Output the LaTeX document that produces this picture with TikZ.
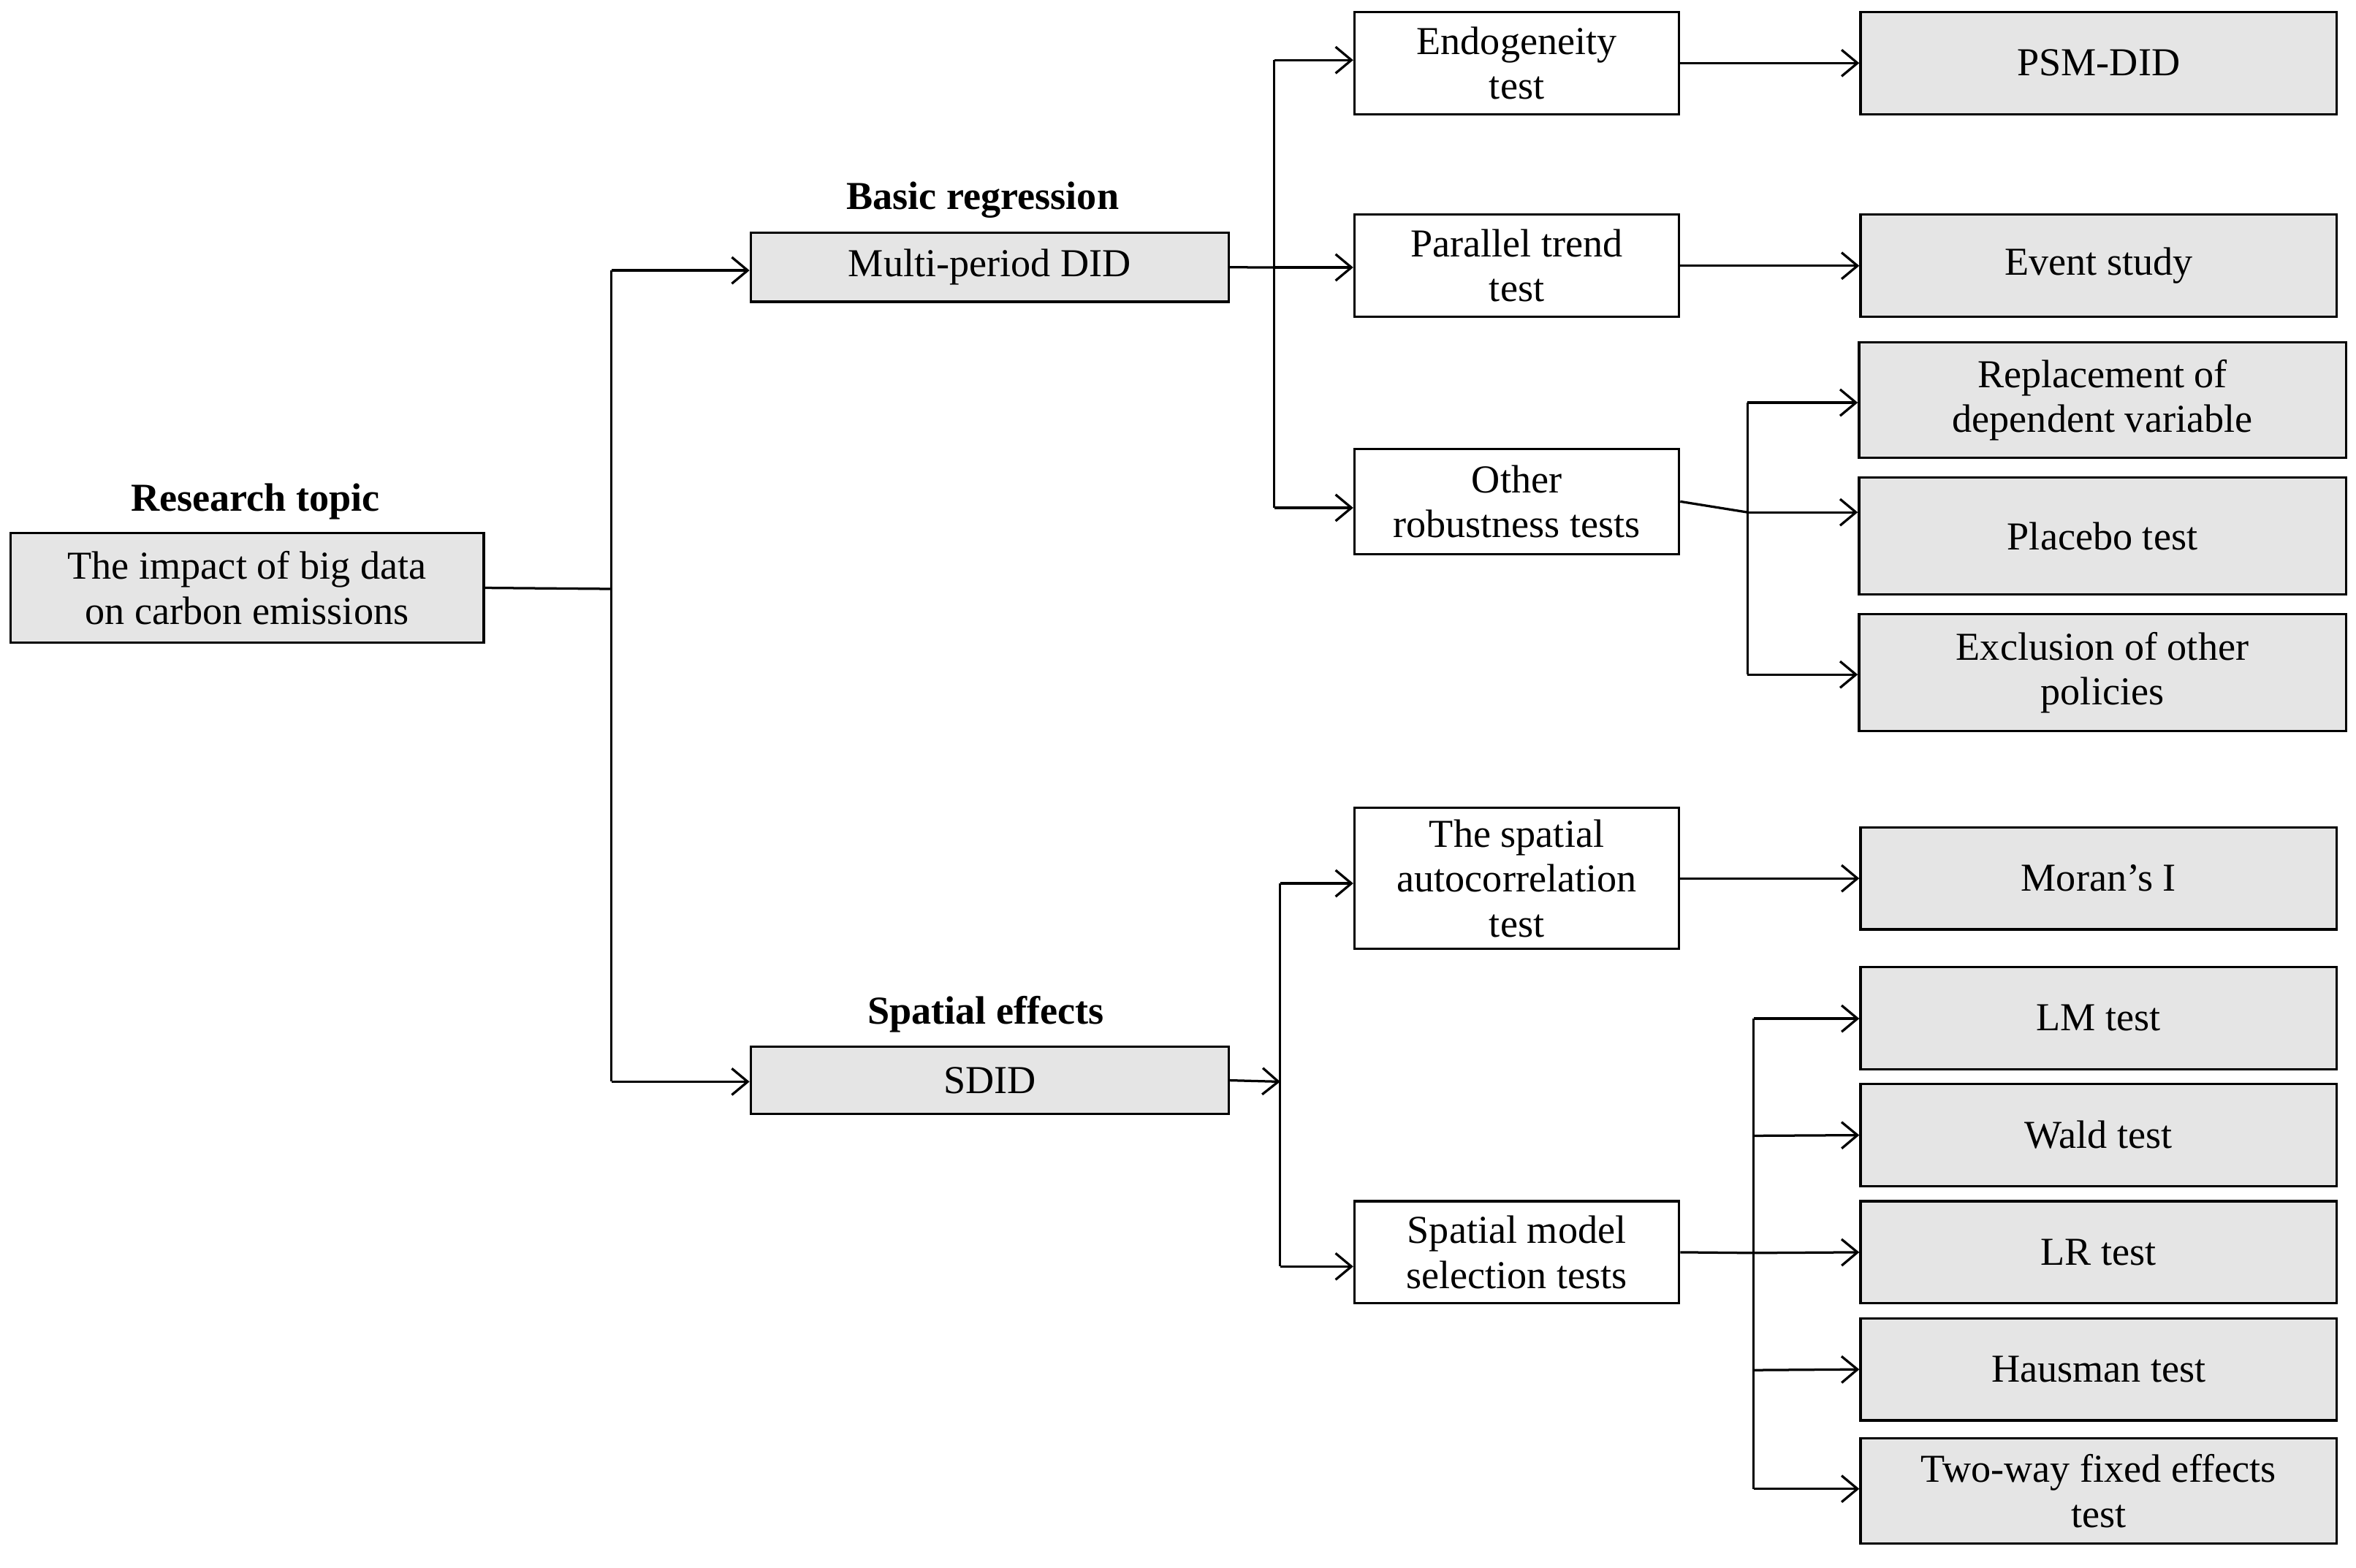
\documentclass[tikz,border=0pt]{standalone}
\usepackage{fontspec}
\setmainfont{Liberation Serif}
\usetikzlibrary{arrows.meta}
\tikzset{
  box/.style={draw, line width=0.9pt, align=center, inner sep=0pt, font=\fontsize{15}{17}\selectfont},
  gbox/.style={box, fill=black!10},
  head/.style={font=\fontsize{15}{17}\selectfont\bfseries},
  arr/.style={-{Straight Barb[length=6pt,width=10pt]}, line width=0.9pt},
  ln/.style={line width=0.9pt}
}
\newcommand{\bx}[6]{% name, style, x1, y1, x2, y2
  \node[#2, minimum width=#5*0.02cm-#3*0.02cm, minimum height=#6*0.02cm-#4*0.02cm]
    (#1) at ({(#3+#5)*0.01}, {-(#4+#6)*0.01}) }
\begin{document}
\begin{tikzpicture}
\useasboundingbox (0,0) rectangle (31.36,-20.87);

% level 1 and 2
\bx{topic}{gbox}{7}{355}{322}{428} {The impact of big data\\on carbon emissions};
\node[head] (topichead) at (3.4,-6.68) {Research topic};
\bx{did}{gbox}{500}{155}{818}{201} {Multi-period DID};
\node[head] (didhead) at (13.08,-2.66) {Basic regression};
\bx{sdid}{gbox}{500}{697}{818}{742} {SDID};
\node[head] (sdidhead) at (13.12,-13.5) {Spatial effects};

% level 3
\bx{endo}{box}{902}{8}{1118}{76} {Endogeneity\\test};
\bx{para}{box}{902}{143}{1118}{211} {Parallel trend\\test};
\bx{rob}{box}{902}{299}{1118}{369} {Other\\robustness tests};
\bx{auto}{box}{902}{538}{1118}{632} {The spatial\\autocorrelation\\test};
\bx{sel}{box}{902}{800}{1118}{868} {Spatial model\\selection tests};

% level 4
\bx{psm}{gbox}{1239}{8}{1556}{76} {PSM-DID};
\bx{event}{gbox}{1239}{143}{1556}{211} {Event study};
\bx{repl}{gbox}{1238}{228}{1562}{305} {Replacement of\\dependent variable};
\bx{plac}{gbox}{1238}{318}{1562}{396} {Placebo test};
\bx{excl}{gbox}{1238}{409}{1562}{487} {Exclusion of other\\policies};
\bx{moran}{gbox}{1239}{551}{1556}{619} {Moran's I};
\bx{lm}{gbox}{1239}{644}{1556}{712} {LM test};
\bx{wald}{gbox}{1239}{722}{1556}{790} {Wald test};
\bx{lr}{gbox}{1239}{800}{1556}{868} {LR test};
\bx{haus}{gbox}{1239}{878}{1556}{946} {Hausman test};
\bx{two}{gbox}{1239}{958}{1556}{1028} {Two-way fixed effects\\test};

% trunk from topic
\coordinate (t1) at (8.14,-7.84);
\coordinate (t1a) at (8.14,-3.6);
\coordinate (t1b) at (8.14,-14.4);
\draw[ln] (topic.east) -- (t1);
\draw[ln] (t1a) -- (t1b);
\draw[arr] (t1a) -- (did.west |- t1a);
\draw[arr] (t1b) -- (sdid.west |- t1b);

% trunk from did
\coordinate (t2) at (16.96,-3.56);
\coordinate (t2a) at (16.96,-0.8);
\coordinate (t2b) at (16.96,-6.76);
\draw[ln] (did.east) -- (t2);
\draw[ln] (t2a) -- (t2b);
\draw[arr] (t2a) -- (endo.west |- t2a);
\draw[arr] (t2) -- (para.west |- t2);
\draw[arr] (t2b) -- (rob.west |- t2b);

% trunk from sdid
\coordinate (t3) at (17.04,-14.4);
\coordinate (t3a) at (17.04,-11.76);
\coordinate (t3b) at (17.04,-16.86);
\draw[arr] (sdid.east) -- (t3);
\draw[ln] (t3a) -- (t3b);
\draw[arr] (t3a) -- (auto.west |- t3a);
\draw[arr] (t3b) -- (sel.west |- t3b);

% direct links
\draw[arr] (endo.east) -- (psm.west);
\draw[arr] (para.east) -- (event.west);
\draw[arr] (auto.east) -- (moran.west |- auto.east);

% trunk from rob
\coordinate (t4) at (23.26,-6.82);
\coordinate (t4a) at (23.26,-5.36);
\coordinate (t4b) at (23.26,-8.98);
\draw[ln] (rob.east) -- (t4);
\draw[ln] (t4a) -- (t4b);
\draw[arr] (t4a) -- (repl.west |- t4a);
\draw[arr] (t4) -- (plac.west |- t4);
\draw[arr] (t4b) -- (excl.west |- t4b);

% trunk from sel
\coordinate (t5) at (23.34,-16.68);
\coordinate (t5a) at (23.34,-13.56);
\coordinate (t5b) at (23.34,-19.82);
\draw[ln] (sel.east) -- (t5);
\draw[ln] (t5a) -- (t5b);
\draw[arr] (t5a) -- (lm.west |- t5a);
\draw[arr] (23.34,-15.12) -- (wald.west);
\draw[arr] (t5) -- (lr.west);
\draw[arr] (23.34,-18.24) -- (haus.west);
\draw[arr] (t5b) -- (two.west |- t5b);
\end{tikzpicture}
\end{document}
